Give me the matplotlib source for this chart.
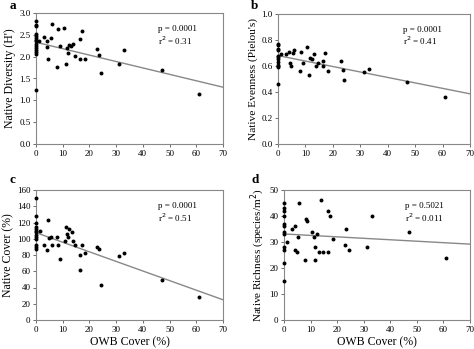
import matplotlib.pyplot as plt
import numpy as np

plt.rcParams['font.family'] = ['Liberation Serif', 'DejaVu Serif']

# panel a: native diversity
div_x = [0, 0, 0, 0, 0, 0, 0, 0, 0, 0, 0, 0, 0, 0, 0,
         1.2, 3, 4, 4.2, 4.5, 5.5, 6, 8, 8.3, 9, 10.5, 11.2, 11.5, 11.8, 12.5, 13, 14, 14.5,
         16.5, 16.5, 17.2, 18.2, 22.8, 23.5, 24.2, 31.2, 33, 47, 61]
div_y = [2.82, 2.72, 2.70, 2.53, 2.47, 2.42, 2.38, 2.35, 2.30, 2.25, 2.20, 2.15, 2.10, 2.05, 1.23,
         2.35, 2.45, 2.35, 2.22, 1.95, 2.42, 2.75, 1.77, 2.63, 2.25, 2.65, 1.83, 2.20, 2.08, 2.27, 2.25, 2.30, 2.02,
         2.40, 1.95, 2.58, 1.95, 2.18, 2.03, 1.62, 1.84, 2.16, 1.70, 1.15]
div_fit = (2.33, -0.0147)

# panel b: native evenness
eve_x = [0, 0, 0, 0, 0, 0, 0, 0, 0, 0, 0, 0,
         1.2, 3, 4, 4.3, 4.6, 5.5, 6, 8, 8.3, 9, 10.5, 11.2, 11.6, 12.3, 13, 14, 14.5,
         16.5, 16.5, 17.2, 18.2, 22.8, 23.6, 24.2, 31.2, 33, 47, 61]
eve_y = [0.77, 0.76, 0.73, 0.72, 0.68, 0.67, 0.65, 0.63, 0.61, 0.60, 0.59, 0.46,
         0.69, 0.69, 0.71, 0.62, 0.60, 0.70, 0.72, 0.56, 0.71, 0.62, 0.75, 0.53, 0.66, 0.65, 0.69, 0.60, 0.62,
         0.64, 0.60, 0.70, 0.56, 0.64, 0.57, 0.49, 0.55, 0.58, 0.48, 0.36]
eve_fit = (0.68, -0.0042)

# panel c: native cover
cov_x = [0, 0, 0, 0, 0, 0, 0, 0, 0, 0, 0, 0, 0,
         1.5, 3, 4, 4.4, 4.8, 5.6, 6, 8, 8.3, 9, 10.7, 11.3, 11.7, 11.8, 12.5, 13.3, 14, 14.5,
         16.5, 16.6, 17.2, 18.2, 22.8, 23.6, 24.2, 31.2, 33, 47, 61]
cov_y = [150, 128, 120, 115, 112, 110, 108, 105, 102, 100, 92, 90, 88,
         110, 92, 86, 123, 101, 102, 92, 102, 92, 75, 97, 114, 106, 102, 112, 108, 97, 92,
         80, 61, 92, 83, 90, 88, 43, 79, 82, 49, 28]
cov_fit = (107.5, -1.18)

# panel d: native richness
ric_x = [0, 0, 0, 0, 0, 0, 0, 0, 0, 0, 0, 0,
         1.3, 3, 4, 4.3, 4.8, 5.4, 5.8, 8, 8.3, 8.8, 10.5, 11.3, 11.6, 11.7, 12.5, 13.3, 14, 14.8,
         16.5, 16.7, 17.3, 18.3, 22.8, 23.5, 24.3, 31.2, 33, 47, 61]
ric_y = [45, 43, 42, 40, 37, 36, 34, 33, 28, 27, 22, 15,
         30, 35, 27, 36, 26, 32, 45, 23, 39, 38, 34, 32, 28, 23, 33, 26, 46, 26,
         26, 42, 40, 31, 29, 35, 27, 28, 40, 34, 24]
ric_fit = (33.1, -0.056)

panels = [
    ('a', div_x, div_y, div_fit, 'Native Diversity (H\')', (0, 3.0), np.arange(0, 3.01, 0.5), '%.1f',
     'p = 0.0001', 'r$^2$ = 0.31', None, 8.5),
    ('b', eve_x, eve_y, eve_fit, 'Native Evenness (Pielou\'s)', (0, 1.0), np.arange(0, 1.01, 0.2), '%.1f',
     'p = 0.0001', 'r$^2$ = 0.41', None, 8.2),
    ('c', cov_x, cov_y, cov_fit, 'Native Cover (%)', (0, 160), np.arange(0, 161, 20), '%d',
     'p = 0.0001', 'r$^2$ = 0.51', 'OWB Cover (%)', 8.5),
    ('d', ric_x, ric_y, ric_fit, 'Native Richness (species/m$^2$)', (0, 50), np.arange(0, 51, 10), '%d',
     'p = 0.5021', 'r$^2$ = 0.011', 'OWB Cover (%)', 8),
]

# axes rectangles in pixels: left, right, top, bottom
W, H = 474, 349
boxes = [(36, 223, 13, 144), (278, 470, 14, 144), (36, 223, 190, 320), (284, 470, 190, 320)]
letter_pos = [(10, 6), (251, 6), (9, 180), (251, 180)]

fig = plt.figure(figsize=(W / 100, H / 100), dpi=100)
for (lab, x, y, fit, ylab, ylim, yt, fmt, ptxt, rtxt, xlab, yfs), (l, r, t, b), (lx, ly) in zip(panels, boxes, letter_pos):
    ax = fig.add_axes([l / W, (H - b) / H, (r - l) / W, (b - t) / H])
    ax.scatter(x, y, s=8, color='black', linewidths=0, zorder=3, clip_on=False)
    xs = np.array([0, 70])
    ax.plot(xs, fit[0] + fit[1] * xs, color='#888888', lw=1.0)
    ax.set_xlim(0, 70)
    ax.set_ylim(*ylim)
    ax.set_xticks(range(0, 71, 10))
    ax.set_yticks(yt)
    ax.set_yticklabels([fmt % v for v in yt])
    for s in ax.spines.values():
        s.set_color('#888888')
        s.set_linewidth(0.8)
    ax.tick_params(labelsize=6.5, length=2.5, width=0.6, color='#555555', pad=1.5)
    ax.set_ylabel(ylab, fontsize=yfs, labelpad=2)
    if xlab:
        ax.set_xlabel(xlab, fontsize=8.5, labelpad=2)
    ax.text(0.65, 0.88, ptxt, transform=ax.transAxes, fontsize=6.5, va='center')
    ax.text(0.65, 0.79, rtxt, transform=ax.transAxes, fontsize=6.5, va='center')
    fig.text(lx / W, 1 - ly / H, lab, fontsize=9.5, fontweight='bold', va='center')

fig.savefig('out.png', dpi=100)
